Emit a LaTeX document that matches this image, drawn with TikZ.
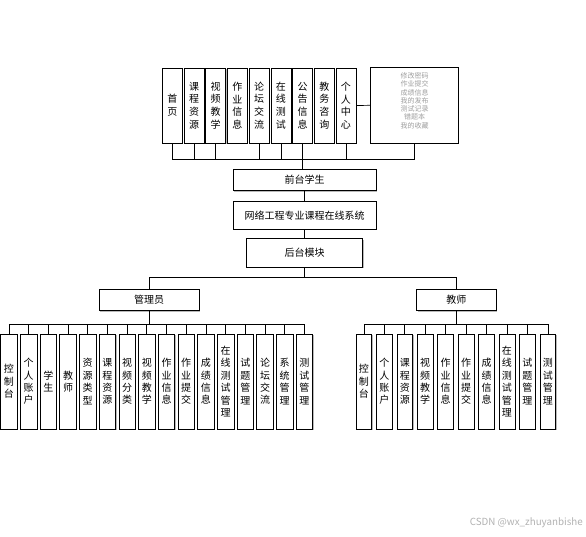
\documentclass[tikz,border=0pt]{standalone}
\usepackage{fontspec}
\setmainfont{Noto Sans CJK SC}
\usetikzlibrary{shadows}
\begin{document}
\begin{tikzpicture}[x=1pt,y=-1pt,
  line/.style={draw=black, line width=0.7pt},
  box/.style={draw=black, line width=0.7pt, fill=white, inner sep=0pt,
    drop shadow={shadow xshift=0.9pt, shadow yshift=-0.9pt, fill=gray!55, opacity=1}},
  tbox/.style={box, minimum width=20pt, minimum height=75pt, align=center,
    font=\fontsize{10}{12.7}\selectfont},
  lbox/.style={box, minimum width=16.5pt, minimum height=95pt, align=center,
    font=\fontsize{10}{12.4}\selectfont},
  rbox/.style={box, minimum width=15.8pt, minimum height=95pt, align=center,
    font=\fontsize{10}{12.4}\selectfont},
  hbox/.style={box, font=\fontsize{10}{12}\selectfont},
  note/.style={align=center, text=gray!75, font=\fontsize{7}{8.3}\selectfont, inner sep=0pt}
]
\fill[white] (0,0) rectangle (586,536);
\useasboundingbox (0,0) rectangle (586,536);

% ---------- top row ----------
\foreach \txt [count=\i] in {{首\\页},{课\\程\\资\\源},{视\\频\\教\\学},{作\\业\\信\\息},{论\\坛\\交\\流},{在\\线\\测\\试},{公\\告\\信\\息},{教\\务\\咨\\询},{个\\人\\中\\心}}
  \node[tbox] (t\i) at ({172.3+21.71*(\i-1)},105.5) {\txt};

\node[box, minimum width=87.6pt, minimum height=76pt] (g) at (414.5,105.3) {};
\node[note] (gt) at (414.5,100.7) {修改密码\\作业提交\\成绩信息\\我的发布\\测试记录\\错题本\\我的收藏};

\draw[line] (t9.east) -- (g.west);

\coordinate (busy) at (0,159.5);
\foreach \i in {1,2,3,5,6,7,9}
  \draw[line] (t\i.south) -- (t\i.south |- busy);
\draw[line] (g.south) -- (g.south |- busy);
\draw[line] (t1.south |- busy) -- (g.south |- busy);

% ---------- middle column ----------
\node[hbox, minimum width=142.7pt, minimum height=21.4pt] (s1) at (304.7,180) {前台学生};
\node[hbox, minimum width=142.7pt, minimum height=27.6pt] (s2) at (304.7,215.5) {网络工程专业课程在线系统};
\node[hbox, minimum width=116pt, minimum height=28.6pt] (s3) at (304.7,253) {后台模块};

\draw[line] (t7.south |- busy) -- (t7.south |- s1.north);
\draw[line] (s1.south) -- (s2.north);
\draw[line] (s2.south) -- (s3.north);

\node[hbox, minimum width=100.3pt, minimum height=21.4pt] (adm) at (149.2,300) {管理员};
\node[hbox, minimum width=79.3pt, minimum height=21.4pt] (tea) at (456.3,300) {教师};

\coordinate (hb) at (0,277.3);
\draw[line] (s3.south) -- (s3.south |- hb);
\draw[line] (adm.north |- hb) -- (tea.north |- hb);
\draw[line] (adm.north) -- (adm.north |- hb);
\draw[line] (tea.north) -- (tea.north |- hb);

% ---------- bottom left (管理员) ----------
\foreach \txt [count=\i] in {{控\\制\\台},{个\\人\\账\\户},{学\\生},{教\\师},{资\\源\\类\\型},{课\\程\\资\\源},{视\\频\\分\\类},{视\\频\\教\\学},{作\\业\\信\\息},{作\\业\\提\\交},{成\\绩\\信\\息},{在\\线\\测\\试\\管\\理},{试\\题\\管\\理},{论\\坛\\交\\流},{系\\统\\管\\理},{测\\试\\管\\理}}
  \node[lbox] (l\i) at ({8.9+19.7*(\i-1)},381.5) {\txt};

\coordinate (lb) at (0,324);
\draw[line] (adm.south) -- (adm.south |- lb);
\draw[line] (l1.north |- lb) -- (l16.north |- lb);
\foreach \i in {1,...,16}
  \draw[line] (l\i.north) -- (l\i.north |- lb);

% ---------- bottom right (教师) ----------
\foreach \txt [count=\i] in {{控\\制\\台},{个\\人\\账\\户},{课\\程\\资\\源},{视\\频\\教\\学},{作\\业\\信\\息},{作\\业\\提\\交},{成\\绩\\信\\息},{在\\线\\测\\试\\管\\理},{试\\题\\管\\理},{测\\试\\管\\理}}
  \node[rbox] (r\i) at ({363.9+20.44*(\i-1)},381.5) {\txt};

\draw[line] (tea.south) -- (tea.south |- lb);
\draw[line] (r1.north |- lb) -- (r10.north |- lb);
\foreach \i in {1,...,10}
  \draw[line] (r\i.north) -- (r\i.north |- lb);

% ---------- watermark ----------
\node[anchor=east, text=gray!60, font=\fontsize{9.8}{11}\selectfont, inner sep=0pt] (wm) at (583,522.3) {CSDN @wx\_zhuyanbishe};
\end{tikzpicture}
\end{document}
